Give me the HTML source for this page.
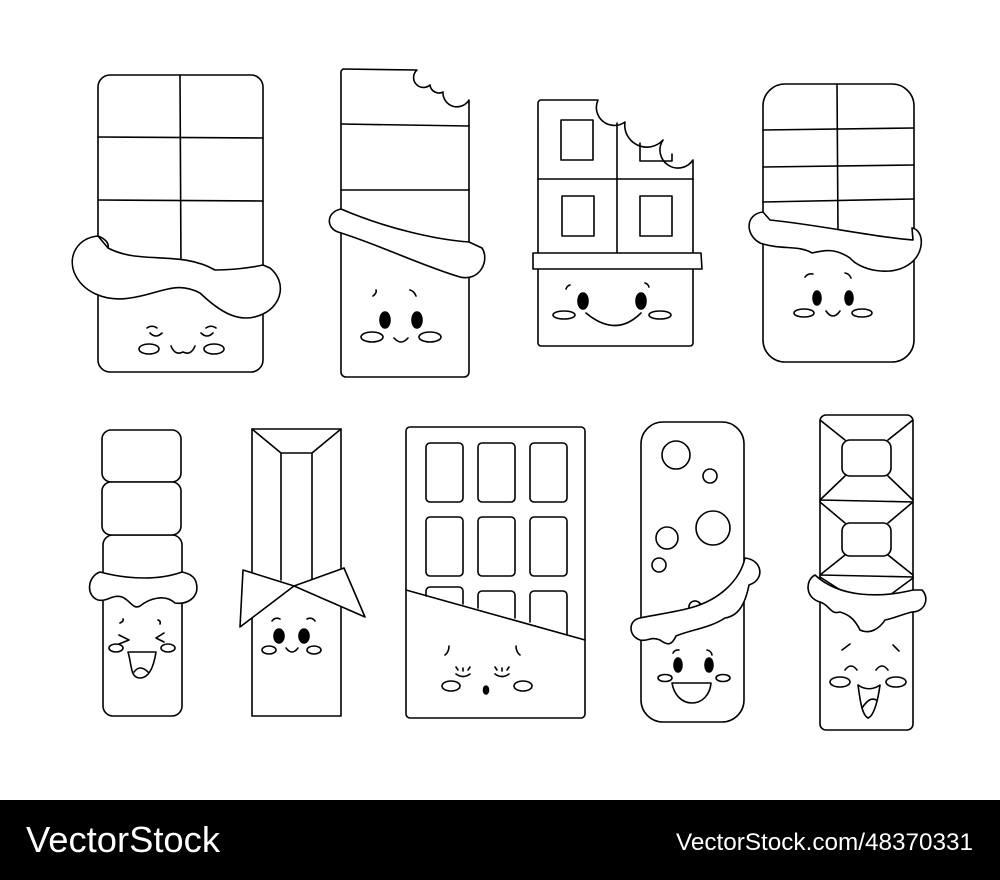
<!DOCTYPE html>
<html><head><meta charset="utf-8"><style>
html,body{margin:0;padding:0;background:#fff;width:1000px;height:880px;overflow:hidden}
svg{display:block}
</style></head><body>
<svg width="1000" height="880" viewBox="0 0 1000 880" xmlns="http://www.w3.org/2000/svg">
<g fill="none" stroke="#000" stroke-width="1.6" stroke-linecap="round" stroke-linejoin="round">
<!-- Bar 1 -->
<rect x="98" y="75" width="165" height="297" rx="12" fill="#fff"/>
<line x1="180" y1="75" x2="181" y2="268"/>
<line x1="98" y1="137" x2="263" y2="138"/>
<line x1="98" y1="200" x2="263" y2="201"/>
<path d="M98,236 C78,238 68,255 74,272 C82,292 105,302 130,298 C160,294 175,280 200,293 C220,312 240,325 263,314 C282,305 287,282 270,268 L263,265 C250,268 230,270 215,270 C180,250 140,265 108,248 Z" fill="#fff"/>
<path d="M108,248 C110,240 98,236 98,236"/>
<path d="M147,328 a8,8 0 0 1 10,0 M150,333 q6,6 12,0 M206,328 a8,8 0 0 1 10,0 M201,333 q6,6 12,0"/>
<ellipse cx="149" cy="349" rx="10" ry="5"/><ellipse cx="214" cy="349" rx="10" ry="5"/>
<path d="M171,346 q4,10 12,6 q8,4 12,-6"/>
<!-- Bar 2 -->
<path d="M343,69 L417,70 A9,9 0 0 0 430,85 A9,9 0 0 0 443,92 A14,14 0 0 0 469,100 L469,372 a5,5 0 0 1 -5,5 L346,377 a5,5 0 0 1 -5,-5 L341,74 a5,5 0 0 1 2,-5 Z" fill="#fff"/>
<line x1="341" y1="124" x2="469" y2="126"/>
<line x1="341" y1="190" x2="469" y2="190"/>
<path d="M341,209 C326,212 326,228 338,232 C380,245 420,265 460,277 C480,282 490,260 482,248 L469,242 C440,240 390,230 341,209 Z" fill="#fff"/>
<path d="M373,296 q4,-3 3,-6 M410,290 q4,1 6,6"/>
<ellipse cx="385" cy="320" rx="5" ry="8" fill="#000"/><ellipse cx="417" cy="320" rx="5" ry="8" fill="#000"/>
<ellipse cx="372" cy="337" rx="11" ry="5"/><ellipse cx="430" cy="337" rx="11" ry="5"/>
<path d="M394,338 q7,8 14,0"/>
<!-- Bar 3 -->
<path d="M541,100 L598,100 A18,18 0 0 0 625,122 A22,22 0 0 0 663,140 A17,17 0 0 0 693,160 L693,343 a3,3 0 0 1 -3,3 L541,346 a3,3 0 0 1 -3,-3 L538,103 a3,3 0 0 1 3,-3 Z" fill="#fff"/>
<line x1="617" y1="123" x2="617" y2="253"/>
<line x1="538" y1="179" x2="693" y2="179"/>
<rect x="561" y="120" width="32" height="40"/>
<path d="M640,143 L640,161 L672,161 L672,154"/>
<rect x="562" y="196" width="32" height="40"/><rect x="640" y="196" width="32" height="40"/>
<path d="M533,253 L701,253 L702,269 L533,269 Z" fill="#fff"/>
<path d="M570,285 a6,6 0 0 0 -4,4 M645,283 a6,6 0 0 1 4,4"/>
<ellipse cx="583" cy="301" rx="5" ry="8" fill="#000"/><ellipse cx="641" cy="301" rx="5" ry="8" fill="#000"/>
<ellipse cx="564" cy="315" rx="11" ry="4"/><ellipse cx="660" cy="315" rx="11" ry="4"/>
<path d="M586,313 q30,25 55,0"/>
<!-- Bar 4 -->
<rect x="763" y="84" width="151" height="278" rx="22" fill="#fff"/>
<line x1="837" y1="84" x2="838" y2="232"/>
<line x1="763" y1="130" x2="914" y2="128"/>
<line x1="763" y1="167" x2="914" y2="165"/>
<line x1="763" y1="202" x2="914" y2="199"/>
<path d="M763,212 C745,214 745,235 760,243 C780,250 800,245 812,253 C825,250 835,248 850,258 C860,270 890,277 908,265 C925,255 925,230 912,228 L913,240 C880,238 820,225 770,220 Z" fill="#fff"/>
<path d="M805,277 a8,8 0 0 1 8,-3 M845,273 a8,8 0 0 1 6,5"/>
<ellipse cx="817" cy="298" rx="4" ry="7" fill="#000"/><ellipse cx="849" cy="298" rx="4" ry="7" fill="#000"/>
<ellipse cx="804" cy="313" rx="10" ry="4"/><ellipse cx="862" cy="313" rx="10" ry="4"/>
<path d="M826,311 q7,10 14,0"/>
<!-- Bar 5 -->
<rect x="103" y="535" width="79" height="181" rx="10" fill="#fff"/>
<rect x="102" y="430" width="79" height="52" rx="9" fill="#fff"/>
<rect x="102" y="482" width="79" height="53" rx="9" fill="#fff"/>
<path d="M100,572 C88,576 85,595 98,600 C108,602 112,594 122,597 C130,600 133,610 140,606 C150,598 165,594 175,603 C190,605 200,595 196,582 C194,575 187,573 182,572 C160,580 130,580 100,572 Z" fill="#fff"/>
<path d="M120,623 q4,-2 3,-4 M158,620 q3,1 2,4 M119,635 l10,5 l-10,4 M164,633 l-8,5 l8,4"/>
<ellipse cx="116" cy="648" rx="7" ry="4"/><ellipse cx="168" cy="648" rx="7" ry="4"/>
<path d="M128,652 L156,652 C154,665 150,678 140,678 C130,678 132,665 128,652 Z"/>
<path d="M134,672 q6,-8 14,0"/>
<!-- Bar 6 -->
<rect x="252" y="429" width="89" height="287" fill="#fff"/>
<path d="M252,429 L281,453 L312,453 L341,429 M281,453 L281,580 M312,453 L312,580"/>
<path d="M243,570 L294,586 L344,568 L365,617 L294,586 L240,627 Z" fill="#fff"/>
<path d="M272,621 a6,6 0 0 1 8,-2 M307,619 a6,6 0 0 1 8,2"/>
<ellipse cx="279" cy="636" rx="5" ry="7" fill="#000"/><ellipse cx="304" cy="636" rx="5" ry="7" fill="#000"/>
<ellipse cx="269" cy="650" rx="7" ry="4"/><ellipse cx="314" cy="650" rx="7" ry="4"/>
<path d="M286,648 q6,8 12,0"/>
<!-- Bar 7 -->
<rect x="406" y="427" width="179" height="291" rx="4" fill="#fff"/>
<rect x="426" y="443" width="37" height="59" rx="4"/><rect x="478" y="443" width="37" height="59" rx="4"/><rect x="530" y="443" width="37" height="59" rx="4"/>
<rect x="426" y="517" width="37" height="59" rx="4"/><rect x="478" y="517" width="37" height="59" rx="4"/><rect x="530" y="517" width="37" height="59" rx="4"/>
<path d="M426,596 L426,591 a4,4 0 0 1 4,-4 L459,587 a4,4 0 0 1 4,4 L463,604 M478,608 L478,595 a4,4 0 0 1 4,-4 L511,591 a4,4 0 0 1 4,4 L515,618 M530,622 L530,595 a4,4 0 0 1 4,-4 L563,591 a4,4 0 0 1 4,4 L567,634"/>
<line x1="406" y1="590" x2="585" y2="640"/>
<path d="M449,646 q0,6 -4,9 M516,646 q0,6 4,9"/>
<path d="M456,674 q7,5 14,0 M495,674 q7,5 14,0 M458,670 l-2,-3 M463,671 l0,-3 M468,670 l2,-3 M497,670 l-2,-3 M502,671 l0,-3 M507,670 l2,-3"/>
<ellipse cx="451" cy="686" rx="9" ry="5"/><ellipse cx="523" cy="686" rx="9" ry="5"/>
<ellipse cx="486" cy="690" rx="2.5" ry="4" fill="#000"/>
<!-- Bar 8 -->
<rect x="641" y="422" width="103" height="300" rx="22" fill="#fff"/>
<circle cx="676" cy="455" r="14"/><circle cx="710" cy="476" r="7"/><circle cx="713" cy="528" r="17"/><circle cx="667" cy="538" r="11"/><circle cx="659" cy="565" r="7"/>
<path d="M689,608 a6,6 0 0 1 12,-2"/>
<path d="M640,618 C628,620 628,636 640,640 C648,642 650,636 660,640 C668,646 672,645 676,636 C690,630 710,628 725,618 C738,616 745,605 749,585 C765,580 763,560 745,558 C740,580 720,600 690,608 C675,612 660,614 640,618 Z" fill="#fff"/>
<path d="M673,653 a6,6 0 0 1 6,-3 M707,650 a6,6 0 0 1 5,5"/>
<ellipse cx="678" cy="665" rx="4" ry="7" fill="#000"/><ellipse cx="709" cy="665" rx="4" ry="7" fill="#000"/>
<ellipse cx="665" cy="678" rx="7" ry="3.5"/><ellipse cx="723" cy="678" rx="7" ry="3.5"/>
<path d="M672,683 L711,683 C710,695 702,703 692,703 C682,703 674,695 672,683 Z"/>
<!-- Bar 9 -->
<rect x="820" y="415" width="93" height="315" rx="6" fill="#fff"/>
<path d="M820,420 L845,440 M913,420 L888,440 M820,500 L845,476 M913,500 L888,476 M820,500 L913,502 M820,502 L845,523 M913,502 L888,523 M820,575 L845,555 M913,575 L888,555 M820,575 L913,577"/>
<rect x="842" y="440" width="49" height="36" rx="8"/>
<rect x="842" y="523" width="49" height="33" rx="8"/>
<path d="M820,577 L845,593 M913,578 L890,595"/>
<path d="M815,575 C805,580 805,598 820,602 C830,605 830,615 840,612 C850,615 855,620 860,630 C870,635 880,628 885,620 C895,618 900,615 912,612 C925,612 930,598 922,590 L913,590 C880,598 840,598 815,575 Z" fill="#fff"/>
<path d="M842,650 l8,-6 M893,645 l6,6 M845,670 q6,-8 12,0 M876,670 q6,-8 12,0"/>
<ellipse cx="840" cy="682" rx="10" ry="5"/><ellipse cx="896" cy="682" rx="10" ry="5"/>
<path d="M858,685 C860,700 862,715 868,718 C874,716 878,700 880,685 C873,690 865,690 858,685 Z"/>
<path d="M862,708 q8,-12 14,-8"/>
</g>
<rect x="0" y="800" width="1000" height="80" fill="#000"/>
<text x="26" y="852" font-family="'Liberation Sans', sans-serif" font-size="36" fill="#fff" textLength="194" lengthAdjust="spacingAndGlyphs">VectorStock</text>
<text x="676" y="850" font-family="'Liberation Sans', sans-serif" font-size="24" fill="#fff" textLength="297" lengthAdjust="spacingAndGlyphs">VectorStock.com/48370331</text>
</svg>
</body></html>
